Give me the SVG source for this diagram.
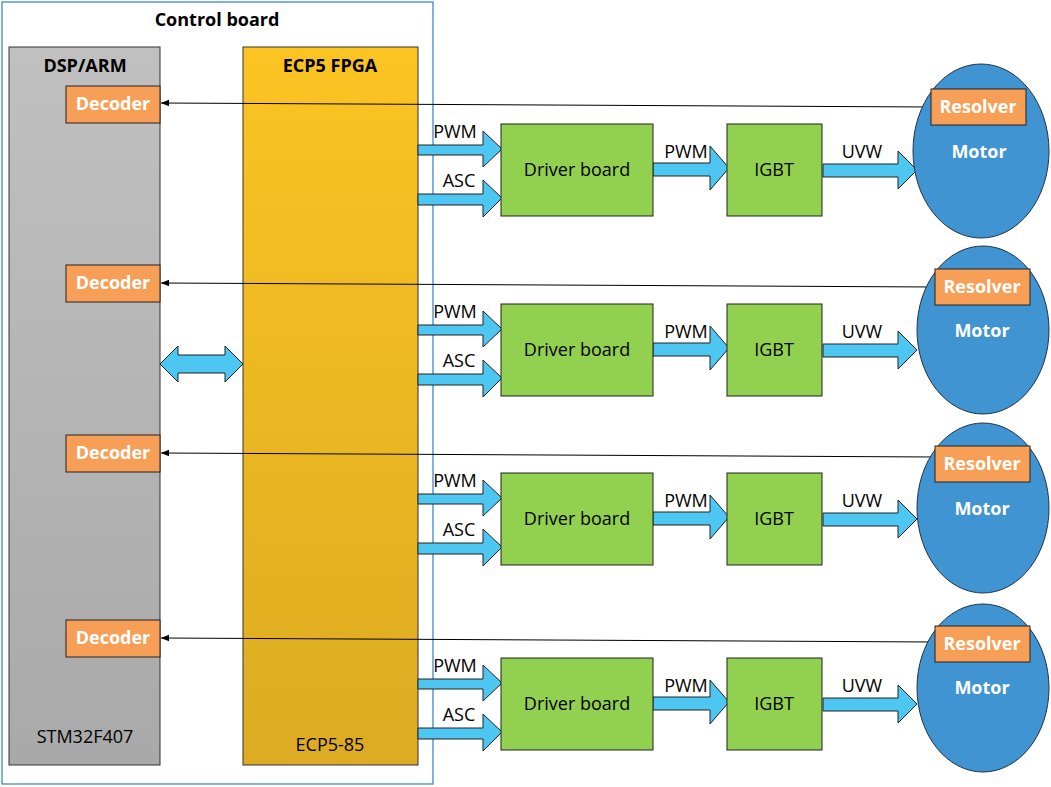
<svg xmlns="http://www.w3.org/2000/svg" width="1051" height="787" viewBox="0 0 1051 787">
<defs>
<linearGradient id="gg" x1="0" y1="0" x2="0" y2="1"><stop offset="0" stop-color="#c0c0c0"/><stop offset="1" stop-color="#a9a9a9"/></linearGradient>
<linearGradient id="gy" x1="0" y1="0" x2="0" y2="1"><stop offset="0" stop-color="#fbc422"/><stop offset="1" stop-color="#dcab22"/></linearGradient>
<marker id="ah" viewBox="0 0 10 10" refX="10" refY="5" markerWidth="8" markerHeight="8" markerUnits="userSpaceOnUse" orient="auto"><path d="M0,1 L10,5 L0,9 z" fill="#000"/></marker>
<path id="pwm" d="M418,145 H483 V131 L502,149 L483,167 V155 H418 z"/>
<path id="asc" d="M418,194 H483 V180 L502,198 L483,217 V205 H418 z"/>
<path id="mid" d="M653,163 H710 V146 L729,168 L710,190 V176 H653 z"/>
<path id="uvw" d="M823,164 H898 V151 L917,170 L898,189 V177 H823 z"/>
</defs>
<style>
.t{font-family:"Open Sans","Noto Sans",sans-serif;font-size:18px;fill:#000;text-anchor:middle}
.b{font-weight:bold}
.w{fill:#fff;font-weight:bold}
.blk{stroke:#333;stroke-width:1}
.dec{fill:#f79f56;stroke:#222;stroke-width:1}
.drv{fill:#92d050;stroke:#222;stroke-width:1}
.mot{fill:#3f94d1;stroke:#234;stroke-width:1}
.arr{fill:#4dc6f2;stroke:#222;stroke-width:1}
.ln{stroke:#000;stroke-width:1;fill:none}
</style>
<rect x="2" y="2" width="431" height="782" fill="#fff" stroke="#2e7fc8" stroke-width="1.2"/>
<text class="t b" x="217" y="26">Control board</text>
<g id="dsp"><rect x="9" y="47" width="151" height="718" fill="url(#gg)" class="blk"/>
<text class="t b" x="85" y="72">DSP/ARM</text><text class="t" x="85" y="743">STM32F407</text></g>
<g id="fpga"><rect x="243" y="47" width="175" height="718" fill="url(#gy)" class="blk"/>
<text class="t b" x="330" y="72">ECP5 FPGA</text><text class="t" x="330" y="751">ECP5-85</text></g>
<g id="connectors">
<path class="arr" d="M160,364 L178,346 V355 H225 V346 L243,364 L225,382 V373 H178 V382 z"/>
<line class="ln" x1="931" y1="107" x2="161" y2="103" marker-end="url(#ah)"/>
<line class="ln" x1="935" y1="287" x2="161" y2="283" marker-end="url(#ah)"/>
<line class="ln" x1="935" y1="457" x2="161" y2="453" marker-end="url(#ah)"/>
<line class="ln" x1="935" y1="642" x2="161" y2="638" marker-end="url(#ah)"/>
<use href="#pwm" class="arr"/><use href="#asc" class="arr"/><use href="#mid" class="arr"/><use href="#uvw" class="arr"/>
<g transform="translate(0,180)"><use href="#pwm" class="arr"/><use href="#asc" class="arr"/><use href="#mid" class="arr"/><use href="#uvw" class="arr"/></g>
<g transform="translate(0,349)"><use href="#pwm" class="arr"/><use href="#asc" class="arr"/><use href="#mid" class="arr"/><use href="#uvw" class="arr"/></g>
<g transform="translate(0,534)"><use href="#pwm" class="arr"/><use href="#asc" class="arr"/><use href="#mid" class="arr"/><use href="#uvw" class="arr"/></g>
</g>
<g id="row1">
<g id="dec1"><rect class="dec" x="66" y="86" width="94" height="37"/><text class="t w" x="113" y="110">Decoder</text></g>
<text class="t" x="455" y="138">PWM</text><text class="t" x="459" y="187">ASC</text>
<g id="drv1"><rect class="drv" x="501" y="124" width="152" height="92"/><text class="t" x="577" y="176">Driver board</text></g>
<text class="t" x="686" y="158">PWM</text>
<g id="igbt1"><rect class="drv" x="727" y="124" width="95" height="92"/><text class="t" x="774" y="176">IGBT</text></g>
<text class="t" x="862" y="158">UVW</text>
<g id="mot1"><ellipse class="mot" cx="981" cy="151" rx="68" ry="87"/><text class="t w" x="979" y="158">Motor</text>
<rect class="dec" x="931" y="89" width="95" height="36"/><text class="t w" x="978" y="113">Resolver</text></g>
</g>
<g id="row2">
<g id="dec2"><rect class="dec" x="66" y="265" width="94" height="37"/><text class="t w" x="113" y="289">Decoder</text></g>
<text class="t" x="455" y="318">PWM</text><text class="t" x="459" y="367">ASC</text>
<g id="drv2"><rect class="drv" x="501" y="304" width="152" height="92"/><text class="t" x="577" y="356">Driver board</text></g>
<text class="t" x="686" y="338">PWM</text>
<g id="igbt2"><rect class="drv" x="727" y="304" width="95" height="92"/><text class="t" x="774" y="356">IGBT</text></g>
<text class="t" x="862" y="338">UVW</text>
<g id="mot2"><ellipse class="mot" cx="983" cy="330" rx="66" ry="84"/><text class="t w" x="982" y="337">Motor</text>
<rect class="dec" x="935" y="269" width="95" height="36"/><text class="t w" x="982" y="293">Resolver</text></g>
</g>
<g id="row3">
<g id="dec3"><rect class="dec" x="66" y="435" width="94" height="37"/><text class="t w" x="113" y="459">Decoder</text></g>
<text class="t" x="455" y="487">PWM</text><text class="t" x="459" y="536">ASC</text>
<g id="drv3"><rect class="drv" x="501" y="473" width="152" height="92"/><text class="t" x="577" y="525">Driver board</text></g>
<text class="t" x="686" y="507">PWM</text>
<g id="igbt3"><rect class="drv" x="727" y="473" width="95" height="92"/><text class="t" x="774" y="525">IGBT</text></g>
<text class="t" x="862" y="507">UVW</text>
<g id="mot3"><ellipse class="mot" cx="983" cy="508" rx="66" ry="85"/><text class="t w" x="982" y="515">Motor</text>
<rect class="dec" x="935" y="446" width="95" height="36"/><text class="t w" x="982" y="470">Resolver</text></g>
</g>
<g id="row4">
<g id="dec4"><rect class="dec" x="66" y="620" width="94" height="37"/><text class="t w" x="113" y="644">Decoder</text></g>
<text class="t" x="455" y="672">PWM</text><text class="t" x="459" y="721">ASC</text>
<g id="drv4"><rect class="drv" x="501" y="658" width="152" height="92"/><text class="t" x="577" y="710">Driver board</text></g>
<text class="t" x="686" y="692">PWM</text>
<g id="igbt4"><rect class="drv" x="727" y="658" width="95" height="92"/><text class="t" x="774" y="710">IGBT</text></g>
<text class="t" x="862" y="692">UVW</text>
<g id="mot4"><ellipse class="mot" cx="983" cy="688" rx="66" ry="84"/><text class="t w" x="982" y="694">Motor</text>
<rect class="dec" x="935" y="626" width="95" height="36"/><text class="t w" x="982" y="650">Resolver</text></g>
</g>
</svg>
